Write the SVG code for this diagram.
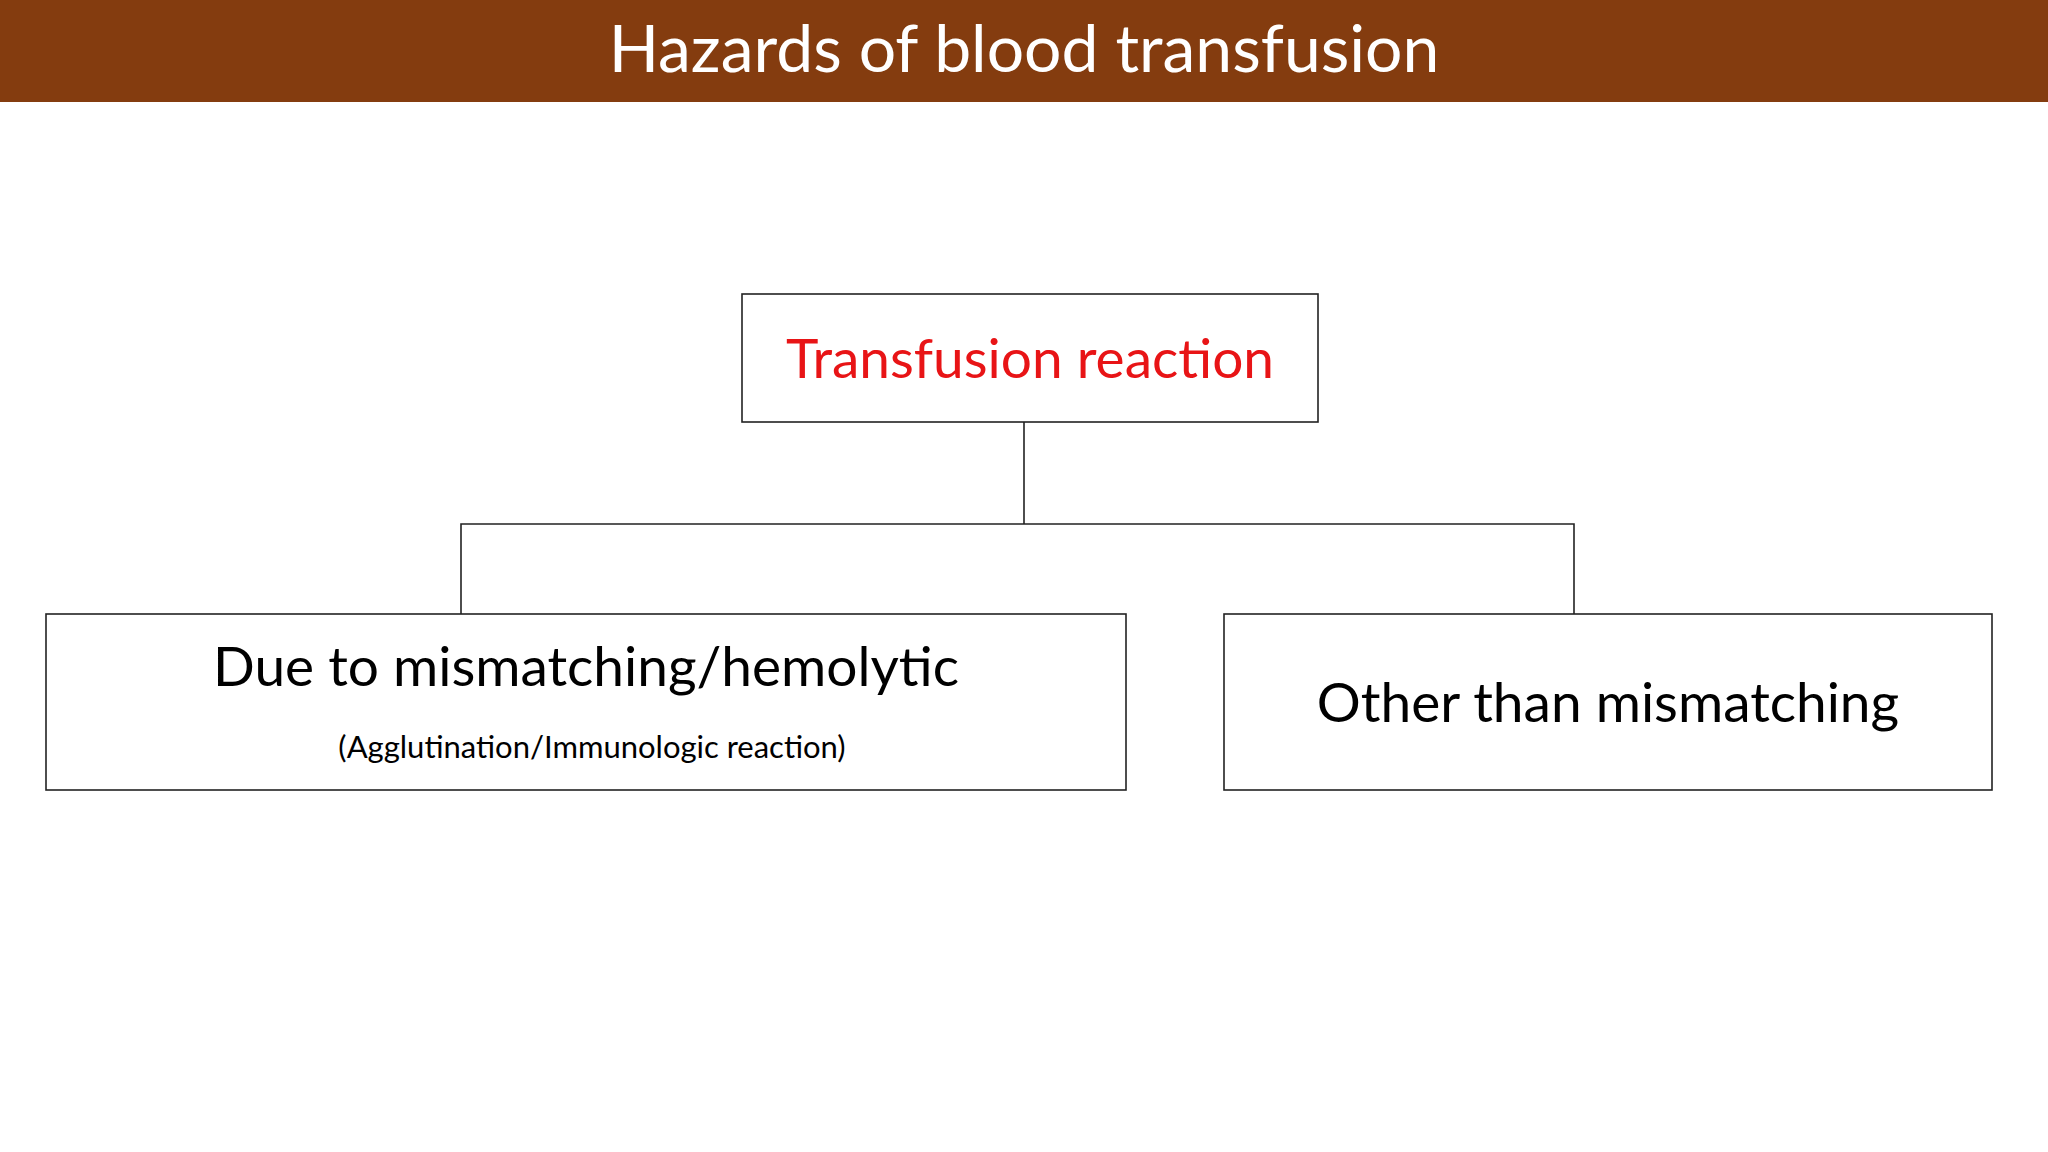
<svg xmlns="http://www.w3.org/2000/svg" width="2048" height="1152" viewBox="0 0 2048 1152">
<style>
.box{fill:#fff;stroke:#222;stroke-width:1.6}
.t{font-family:"Lato","Liberation Sans",sans-serif;text-anchor:middle;fill:#000}
.c{fill:none;stroke:#222;stroke-width:1.6}
</style>
<rect width="2048" height="1152" fill="#fff"/>
<g id="header"><rect x="0" y="0" width="2048" height="102" fill="#843C0F"/>
<text class="t" x="1024" y="72" font-size="66" fill="#fff" style="fill:#fff">Hazards of blood transfusion</text></g>
<g id="connectors">
<path class="c" d="M1024 422V524M461 614V524H1574V614"/>
</g>
<g id="root"><rect class="box" x="742" y="294" width="576" height="128"/>
<text class="t" x="1030" y="378" font-size="55" style="fill:#E81416">Transfusion reaction</text></g>
<g id="left"><rect class="box" x="46" y="614" width="1080" height="176"/>
<text class="t" x="586" y="686" font-size="55">Due to mismatching/hemolytic</text>
<text class="t" x="592" y="758" font-size="31">(Agglutination/Immunologic reaction)</text></g>
<g id="right"><rect class="box" x="1224" y="614" width="768" height="176"/>
<text class="t" x="1608" y="722" font-size="55">Other than mismatching</text></g>
</svg>
